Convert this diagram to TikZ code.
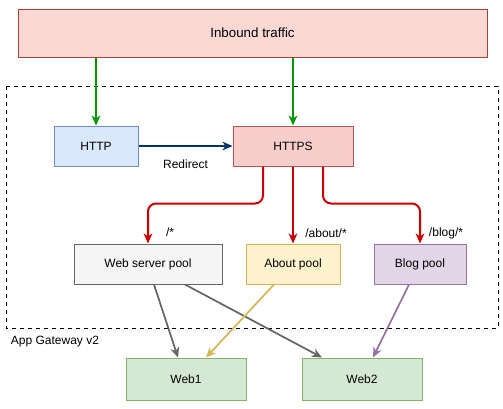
\documentclass[tikz,border=0pt]{standalone}
\usepackage{fontspec}
\setmainfont{Liberation Sans}
\usetikzlibrary{arrows.meta}
\definecolor{InFill}{HTML}{FAD9D5}
\definecolor{InLine}{HTML}{AE4132}
\definecolor{RedFill}{HTML}{F8CECC}
\definecolor{RedLine}{HTML}{B85450}
\definecolor{BlueFill}{HTML}{DAE8FC}
\definecolor{BlueLine}{HTML}{6C8EBF}
\definecolor{GreyFill}{HTML}{F5F5F5}
\definecolor{GreyLine}{HTML}{666666}
\definecolor{YellowFill}{HTML}{FFF2CC}
\definecolor{YellowLine}{HTML}{D6B656}
\definecolor{PurpleFill}{HTML}{E1D5E7}
\definecolor{PurpleLine}{HTML}{9673A6}
\definecolor{GreenFill}{HTML}{D5E8D4}
\definecolor{GreenLine}{HTML}{82B366}
\definecolor{GoArrow}{HTML}{009900}
\definecolor{RouteArrow}{HTML}{CC0000}
\definecolor{RedirArrow}{HTML}{003366}

\begin{document}
\begin{tikzpicture}[x=0.75pt, y=-0.75pt, line width=0.75pt,
        every node/.append style={font=\fontsize{9}{11}\selectfont, text=black},
        >={Stealth[length=7.5pt, width=6.5pt, inset=2.2pt]}]
      \tikzstyle{box} = [draw, rectangle, inner sep=0pt, minimum height=30pt]
      \tikzstyle{flow} = [->, line width=1.5pt]
      \tikzstyle{link} = [->, line width=1.3pt]
      \useasboundingbox (0,0) rectangle (503,408);
      % gateway frame
      \draw[dashed] (6,86) rectangle (498,328);
      \node (gwlabel) [anchor=west] at (6,342) {App Gateway v2};
      % boxes
      \node (inbound) [box, fill=InFill, draw=InLine, minimum width=351.75pt, minimum height=36pt,
        font=\fontsize{10}{12}\selectfont] at (252.5,33) {Inbound traffic};
      \node (http) [box, fill=BlueFill, draw=BlueLine, minimum width=63pt] at (96,146) {HTTP};
      \node (https) [box, fill=RedFill, draw=RedLine, minimum width=90pt] at (293,146) {HTTPS};
      \node (webpool) [box, fill=GreyFill, draw=GreyLine, minimum width=111pt] at (148,264) {Web server pool};
      \node (aboutpool) [box, fill=YellowFill, draw=YellowLine, minimum width=70.5pt] at (293,264) {About pool};
      \node (blogpool) [box, fill=PurpleFill, draw=PurpleLine, minimum width=69pt] at (420,264) {Blog pool};
      \node (web1) [box, fill=GreenFill, draw=GreenLine, minimum width=90pt, minimum height=31.5pt] at (186,379) {Web1};
      \node (web2) [box, fill=GreenFill, draw=GreenLine, minimum width=90pt, minimum height=31.5pt] at (362,379) {Web2};
      % path labels
      \node (rootpath) at (170,232) {/*};
      \node (aboutpath) at (326,233) {/about/*};
      \node (blogpath) at (446,233) {/blog/*};
      % inbound
      \draw[flow, GoArrow] (http |- inbound.south) -- (http.north);
      \draw[flow, GoArrow] (https |- inbound.south) -- (https.north);
      \draw[flow, RedirArrow] (http) -- node (redirect) [below=6pt] {Redirect} (https);
      % routing rules
      \draw[flow, RouteArrow, rounded corners=6pt] ([xshift=-22.5pt]https.south) -- ++(0,37) -| (webpool.north);
      \draw[flow, RouteArrow] (https.south) -- (aboutpool.north);
      \draw[flow, RouteArrow, rounded corners=6pt] ([xshift=22.5pt]https.south) -- ++(0,37) -| (blogpool.north);
      % backends
      \draw[link, GreyLine] ([xshift=4.5pt]webpool.south) -- ([xshift=-6pt]web1.north);
      \draw[link, GreyLine] ([xshift=27.75pt]webpool.south) -- ([xshift=-30pt]web2.north);
      \draw[link, YellowLine] ([xshift=-14.25pt]aboutpool.south) -- ([xshift=15pt]web1.north);
      \draw[link, PurpleLine] ([xshift=-8.25pt]blogpool.south) -- ([xshift=8.25pt]web2.north);
    \end{tikzpicture}
\end{document}
